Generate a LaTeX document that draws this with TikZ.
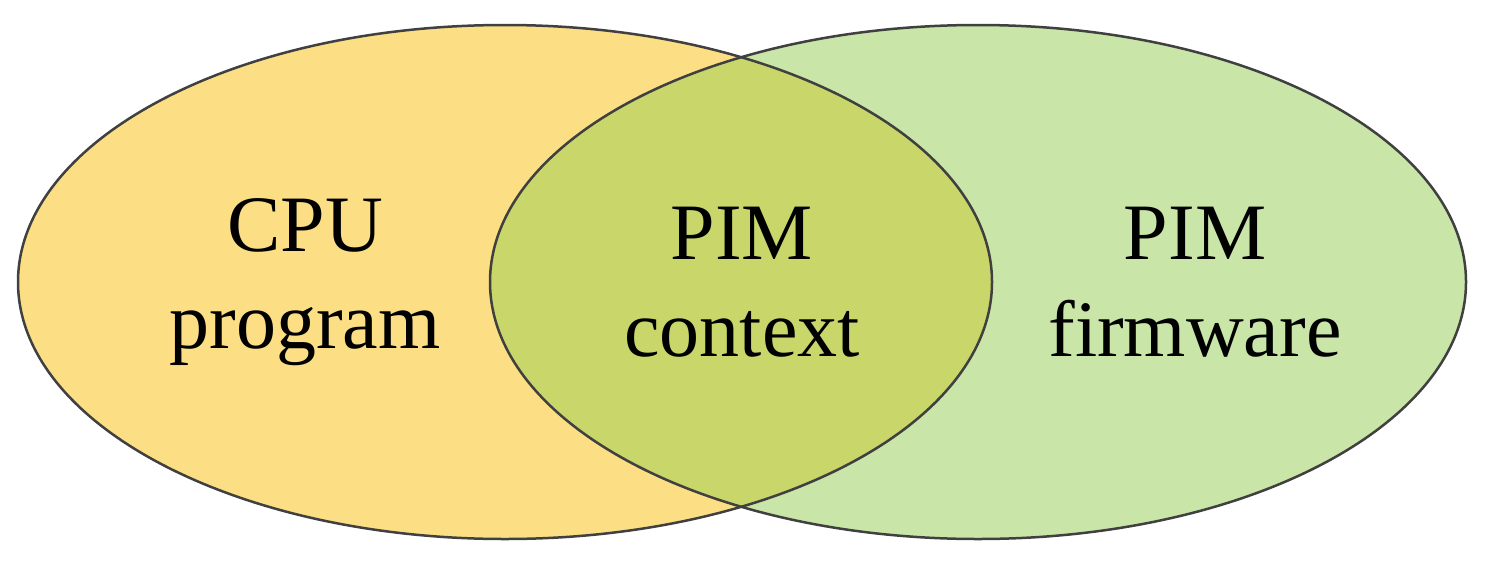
\documentclass[tikz,border=0pt]{standalone}
\usepackage{fontspec}
\setmainfont{Liberation Serif}
\definecolor{lfill}{HTML}{FCDE84}
\definecolor{rfill}{HTML}{C9E6A8}
\definecolor{ofill}{HTML}{C8D66A}
\definecolor{edge}{HTML}{404040}
\begin{document}
\begin{tikzpicture}[x=1pt,y=-1pt,
  lbl/.style={align=center,font=\fontsize{80}{97}\selectfont,text=black},
  rim/.style={draw=edge,line width=2.5pt}]
\useasboundingbox (0,0) rectangle (1485,565);
\fill[lfill] (505,282) ellipse [x radius=487,y radius=257];
\fill[rfill] (978,282) ellipse [x radius=488,y radius=257];
\begin{scope}
\clip (505,282) ellipse [x radius=487,y radius=257];
\fill[ofill] (978,282) ellipse [x radius=488,y radius=257];
\end{scope}
\draw[rim] (505,282) ellipse [x radius=487,y radius=257];
\draw[rim] (978,282) ellipse [x radius=488,y radius=257];
\node[lbl] (cpu) at (305,282) {CPU\\program};
\node[lbl] (ctx) at (742,282) {PIM\\context};
\node[lbl] (fw) at (1195,282) {PIM\\firmware};
\end{tikzpicture}
\end{document}
